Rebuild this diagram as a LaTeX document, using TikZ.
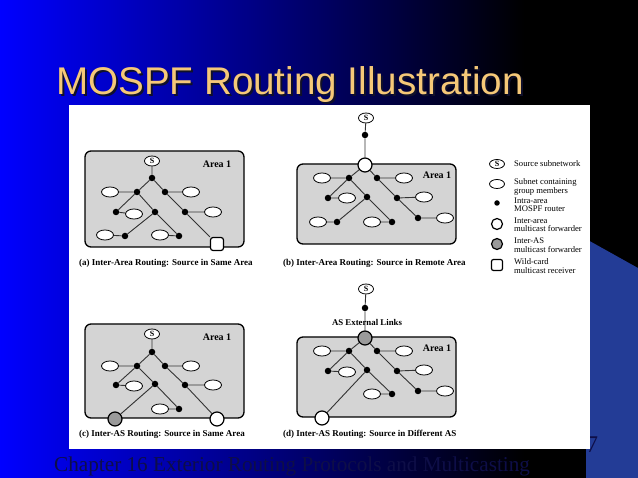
\documentclass[tikz,border=0pt]{standalone}
\usepackage{fontspec}
\setmainfont{Liberation Serif}
\newfontfamily\arialf{Liberation Sans}
\usetikzlibrary{shapes.geometric}
\pgfdeclarelayer{bgl}
\pgfdeclarelayer{edl}
\pgfsetlayers{bgl,edl,main}
\definecolor{titlec}{HTML}{F5C878}
\definecolor{shadowc}{HTML}{10102A}
\definecolor{footc}{HTML}{0E0E48}
\definecolor{polyc}{HTML}{233C96}
\definecolor{areagray}{HTML}{D4D4D4}
\definecolor{asgray}{HTML}{9A9A9A}
\newcommand{\shadowtitle}[1]{\makebox[0pt][l]{\hspace{2pt}\raisebox{-2pt}{\textcolor{shadowc}{#1}}}\textcolor{titlec}{#1}}
\begin{document}
\begin{tikzpicture}[x=1pt,y=-1pt,
  rt/.style={circle,fill=black,inner sep=0pt,minimum size=6.5pt},
  mb/.style={ellipse,draw,fill=white,line width=0.8pt,inner sep=0pt,minimum width=17pt,minimum height=10pt},
  srcn/.style={ellipse,draw,fill=white,line width=0.8pt,inner sep=0pt,minimum width=15pt,minimum height=10pt,font=\bfseries\fontsize{8}{8}\selectfont},
  fw/.style={circle,draw,fill=white,line width=1.2pt,inner sep=0pt,minimum size=14pt},
  asf/.style={fw,fill=asgray},
  wc/.style={rectangle,rounded corners=2.5pt,draw,fill=white,line width=1.2pt,inner sep=0pt,minimum size=13pt},
  areabox/.style={draw,fill=areagray,line width=1.3pt,rounded corners=6pt},
  ln/.style={line width=0.9pt,black!80},
  arealbl/.style={font=\bfseries\fontsize{10}{10}\selectfont,inner sep=0pt},
  captxt/.style={anchor=base west,inner sep=0pt,font=\bfseries\fontsize{9}{9}\selectfont},
  leg/.style={anchor=west,align=left,inner sep=0pt,font=\fontsize{8.6}{8.4}\selectfont},
  lrt/.style={circle,fill=black,inner sep=0pt,minimum size=5.5pt},
  lmb/.style={ellipse,draw,fill=white,line width=0.8pt,inner sep=0pt,minimum width=15pt,minimum height=9pt},
  lfw/.style={circle,draw,fill=white,line width=1.2pt,inner sep=0pt,minimum size=11pt},
  lwc/.style={rectangle,rounded corners=2pt,draw,fill=white,line width=1.2pt,inner sep=0pt,minimum size=11pt}
]
\useasboundingbox (0,0) rectangle (638,478);
\begin{pgfonlayer}{bgl}
  \shade[left color=blue,right color=black] (0,0) rectangle (525,478);
  \fill[black] (524,0) rectangle (638,478);
  \fill[polyc] (586,239) -- (638,268) -- (638,478) -- (586,478) -- cycle;
  \node[anchor=base west,inner sep=0pt,text=footc,font=\fontsize{24}{24}\selectfont] (pnum) at (586,453) {7};
  \fill[white] (69,105) rectangle (590,449);
  \draw[areabox] (85,151) rectangle (244,247);
  \draw[areabox] (297,164) rectangle (456,244);
  \draw[areabox] (85,324) rectangle (244,418);
  \draw[areabox] (297,337) rectangle (456,417);
\end{pgfonlayer}

% title and footer
\node[anchor=base west,inner sep=0pt,font=\arialf\fontsize{38.6}{40}\selectfont] (title) at (56,95) {\shadowtitle{MOSPF Routing Illustration}};
\node[anchor=base west,inner sep=0pt,text=footc,font=\fontsize{21.2}{24}\selectfont] (foot) at (54,472) {Chapter 16 Exterior Routing Protocols and Multicasting};

% ---------- panel (a)
\node[arealbl] (aA) at (217,164) {Area 1};
\node[srcn] (aS) at (152,161) {S};
\node[rt] (a1) at (152,178) {};
\node[rt] (a2) at (137,192) {};
\node[rt] (a3) at (165,192) {};
\node[rt] (a4) at (116,212) {};
\node[rt] (a5) at (155,212) {};
\node[rt] (a6) at (185,212) {};
\node[rt] (a7) at (125,236) {};
\node[rt] (a8) at (179,236) {};
\node[mb] (am1) at (110,192) {};
\node[mb] (am2) at (191,192) {};
\node[mb] (am3) at (134,214) {};
\node[mb] (am4) at (213,212) {};
\node[mb] (am5) at (105,235) {};
\node[mb] (am6) at (160,235) {};
\node[wc] (aw) at (217,244) {};
\node[captxt] (acap) at (79,266) {(a) Inter-Area Routing: Source in Same Area};

% ---------- panel (b)
\node[arealbl] (bA) at (437,175) {Area 1};
\node[srcn] (bS) at (366,118) {S};
\node[rt] (b0) at (365,135) {};
\node[fw] (bF) at (365,165) {};
\node[rt] (b2) at (349,178) {};
\node[rt] (b3) at (377,178) {};
\node[rt] (b4) at (328,198) {};
\node[rt] (b5) at (367,197) {};
\node[rt] (b6) at (397,198) {};
\node[rt] (b7) at (337,222) {};
\node[rt] (b8) at (392,222) {};
\node[rt] (b9) at (418,218) {};
\node[mb] (bm1) at (322,178) {};
\node[mb] (bm2) at (404,178) {};
\node[mb] (bm3) at (347,198) {};
\node[mb] (bm4) at (424,197) {};
\node[mb] (bm5) at (318,222) {};
\node[mb] (bm6) at (372,222) {};
\node[mb] (bm7) at (445,218) {};
\node[captxt] (bcap) at (283,266) {(b) Inter-Area Routing: Source in Remote Area};

% ---------- panel (c)
\node[arealbl] (cA) at (217,337) {Area 1};
\node[srcn] (cS) at (152,334) {S};
\node[rt] (c1) at (152,352) {};
\node[rt] (c2) at (137,366) {};
\node[rt] (c3) at (165,366) {};
\node[rt] (c4) at (116,385) {};
\node[rt] (c5) at (155,384) {};
\node[rt] (c6) at (185,385) {};
\node[rt] (c8) at (179,409) {};
\node[mb] (cm1) at (110,366) {};
\node[mb] (cm2) at (191,366) {};
\node[mb] (cm3) at (134,386) {};
\node[mb] (cm4) at (213,385) {};
\node[mb] (cm6) at (160,409) {};
\node[asf] (cG) at (115,419) {};
\node[fw] (cW) at (217,419) {};
\node[captxt] (ccap) at (79,437) {(c) Inter-AS Routing: Source in Same Area};

% ---------- panel (d)
\node[arealbl] (dA) at (437,348) {Area 1};
\node[srcn] (dS) at (366,289) {S};
\node[rt] (d0) at (365,308) {};
\node[inner sep=0pt,font=\bfseries\fontsize{8.8}{8.8}\selectfont] (dext) at (367,322) {AS External Links};
\node[asf] (dF) at (365,338) {};
\node[rt] (d2) at (349,351) {};
\node[rt] (d3) at (377,351) {};
\node[rt] (d4) at (328,371) {};
\node[rt] (d5) at (367,370) {};
\node[rt] (d6) at (397,371) {};
\node[rt] (d8) at (392,394) {};
\node[rt] (d9) at (418,391) {};
\node[mb] (dm1) at (322,351) {};
\node[mb] (dm2) at (404,351) {};
\node[mb] (dm3) at (347,372) {};
\node[mb] (dm4) at (424,370) {};
\node[mb] (dm6) at (372,394) {};
\node[mb] (dm7) at (445,391) {};
\node[fw] (dW) at (322,418) {};
\node[captxt] (dcap) at (283,437) {(d) Inter-AS Routing: Source in Different AS};

% ---------- legend
\node[srcn,minimum width=15pt,minimum height=9pt] (lS) at (497,164) {S};
\node[leg] (lSt) at (514,164) {Source subnetwork};
\node[lmb] (lM) at (497,184) {};
\node[leg] (lMt) at (514,187) {Subnet containing\\group members};
\node[lrt] (lR) at (497,203) {};
\node[leg] (lRt) at (514,205) {Intra-area\\MOSPF router};
\node[lfw] (lF) at (497,224) {};
\node[leg] (lFt) at (514,225) {Inter-area\\multicast forwarder};
\node[lfw,fill=asgray] (lG) at (497,244) {};
\node[leg] (lGt) at (514,245) {Inter-AS\\multicast forwarder};
\node[lwc] (lW) at (497,265) {};
\node[leg] (lWt) at (514,266) {Wild-card\\multicast receiver};

\begin{pgfonlayer}{edl}
  % (a)
  \draw[ln] (aS)--(a1) (a1)--(a2) (a1)--(a3) (a2)--(am1) (a2)--(a4) (a2)--(a5)
            (a4)--(am3) (a5)--(a7) (a5)--(a8) (a7)--(am5) (a8)--(am6)
            (a3)--(am2) (a3)--(a6) (a6)--(am4) (a6)--(aw);
  % (b)
  \draw[ln] (bS)--(b0) (b0)--(bF) (bF)--(b2) (bF)--(b3) (b2)--(bm1) (b2)--(b4) (b2)--(b5)
            (b4)--(bm3) (b5)--(b7) (b5)--(b8) (b7)--(bm5) (b8)--(bm6)
            (b3)--(bm2) (b3)--(b6) (b6)--(bm4) (b6)--(b9) (b9)--(bm7);
  % (c)
  \draw[ln] (cS)--(c1) (c1)--(c2) (c1)--(c3) (c2)--(cm1) (c2)--(c4) (c2)--(c5)
            (c4)--(cm3) (c5)--(cG) (c5)--(c8) (c8)--(cm6)
            (c3)--(cm2) (c3)--(c6) (c6)--(cm4) (c6)--(cW);
  % (d)
  \draw[ln] (dS)--(d0) (d0)--(dF) (dF)--(d2) (dF)--(d3) (d2)--(dm1) (d2)--(d4) (d2)--(d5)
            (d4)--(dm3) (d5)--(dW) (d5)--(d8) (d8)--(dm6)
            (d3)--(dm2) (d3)--(d6) (d6)--(dm4) (d6)--(d9) (d9)--(dm7);
\end{pgfonlayer}
\end{tikzpicture}
\end{document}
